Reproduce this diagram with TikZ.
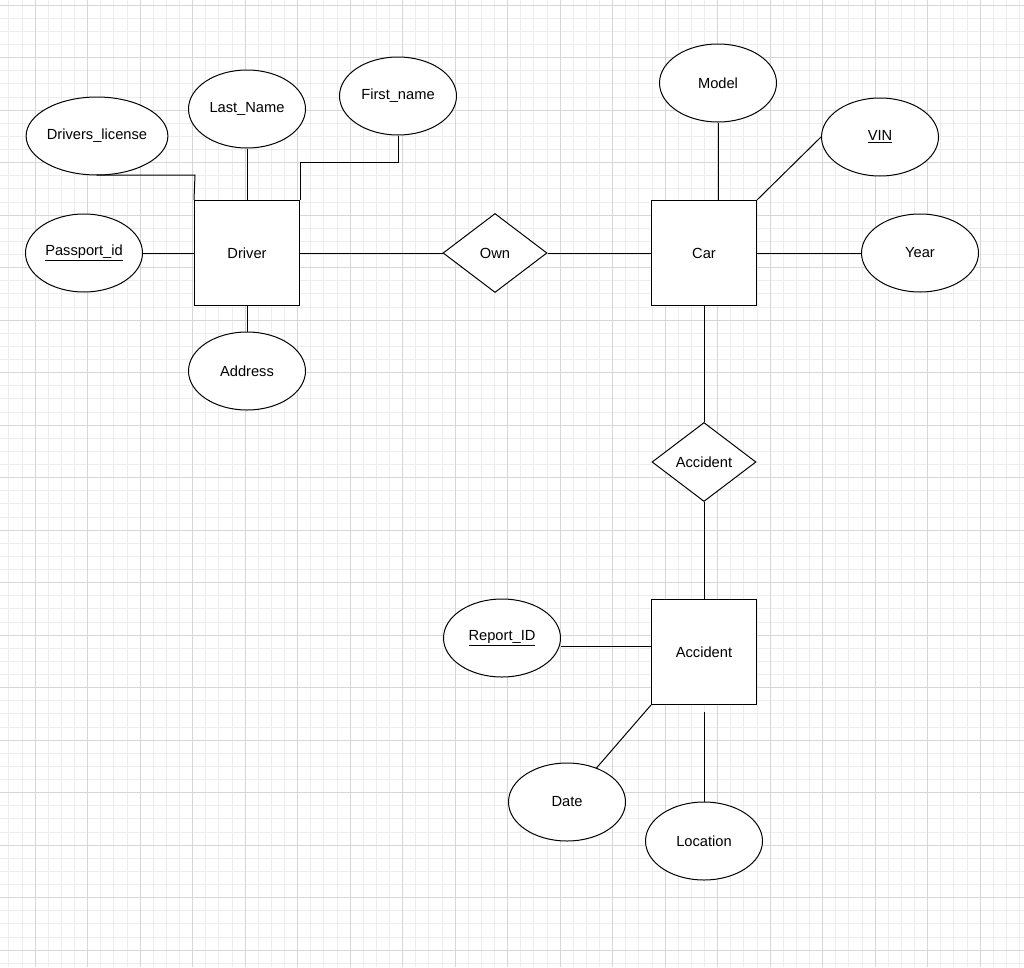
\documentclass[tikz,border=0pt]{standalone}
\usepackage{fontspec}
\setmainfont{Liberation Sans}
\usetikzlibrary{shapes.geometric}
\begin{document}
\begin{tikzpicture}[x=0.75pt,y=-0.75pt,
  ent/.style={draw,line width=0.75pt,fill=white,minimum width=105*0.75pt,minimum height=105*0.75pt,inner sep=0pt,font=\fontsize{11}{13}\selectfont},
  rel/.style={draw,line width=0.75pt,fill=white,diamond,aspect=1.33,minimum width=104*0.75pt,minimum height=79*0.75pt,inner sep=0pt,font=\fontsize{11}{13}\selectfont},
  att/.style={draw,line width=0.75pt,fill=white,ellipse,minimum width=117*0.75pt,minimum height=78*0.75pt,inner sep=0pt,font=\fontsize{11}{13}\selectfont},
  lnk/.style={draw,line width=0.75pt}]
\fill[white] (0,0) rectangle (1024,967);
\useasboundingbox (0,0) rectangle (1024,967);
\foreach \i in {0,...,79} {\draw[black!7,line width=0.4pt] ({\i*13.125-17.5+13.125},0) -- ++(0,967);}
\foreach \i in {0,...,75} {\draw[black!7,line width=0.4pt] (0,{\i*13.125+5}) -- ++(1024,0);}
\foreach \i in {0,...,20} {\draw[black!16,line width=0.5pt] ({\i*52.5-17.5},0) -- ++(0,967);}
\foreach \i in {0,...,19} {\draw[black!16,line width=0.5pt] (0,{\i*52.5+5}) -- ++(1024,0);}
\node[ent] (driver) at (247,253) {Driver};
\node[ent] (car) at (704,253) {Car};
\node[ent] (acc) at (704,652) {Accident};
\node[rel] (own) at (495,253) {Own};
\node[rel] (accr) at (704,462) {Accident};
\node[att] (dl) at (97,136) {Drivers\_license};
\node[att] (ln) at (247,109) {Last\_Name};
\node[att] (fn) at (398,96) {First\_name};
\node[att] (pid) at (84,253) {\underline{Passport\_id}};
\node[att] (addr) at (247,371) {Address};
\node[att] (model) at (718,83) {Model};
\node[att] (vin) at (880,137) {\underline{VIN}};
\node[att] (year) at (920,253) {Year};
\node[att] (rid) at (502,638) {\underline{Report\_ID}};
\node[att] (date) at (567,802) {Date};
\node[att] (loc) at (704,841) {Location};
\coordinate (locend) at (704,712);
\draw[lnk] (dl.south) |- (195,175) -- (driver.north west);
\draw[lnk] (ln) -- (driver);
\draw[lnk] (fn.south) -- (398,162) -- (300,162) -- (driver.north east);
\draw[lnk] (pid) -- (driver);
\draw[lnk] (addr) -- (driver);
\draw[lnk] (driver) -- (own);
\draw[lnk] (own) -- (car);
\draw[lnk] (model.south) -- (718,201);
\draw[lnk] (vin.west) -- (car.north east);
\draw[lnk] (year) -- (car);
\draw[lnk] (car) -- (accr);
\draw[lnk] (accr) -- (acc);
\draw[lnk] (rid.east |- 0,646) -- (acc.west |- 0,646);
\draw[lnk] (acc.south west) -- (date);
\draw[lnk] (loc) -- (locend);
\end{tikzpicture}
\end{document}
